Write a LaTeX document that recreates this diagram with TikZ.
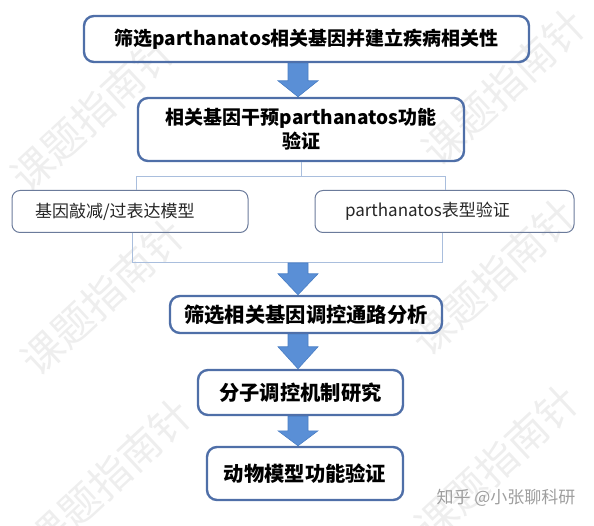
\documentclass[tikz,border=0pt]{standalone}
\usepackage{fontspec}
\setmainfont{Noto Sans CJK SC}
\usetikzlibrary{calc}
\definecolor{mainborder}{HTML}{4F6FA8}
\definecolor{subborder}{HTML}{6B7B9B}
\definecolor{connblue}{HTML}{A9BEDD}
\definecolor{arrowfill}{HTML}{5A8FD6}
\definecolor{arrowedge}{HTML}{4A7EC4}
\definecolor{wmgray}{HTML}{EEEEEE}
\tikzset{
  mainbox/.style={draw=mainborder, line width=2.4pt, rounded corners=10pt, inner sep=0pt,
    font=\fontsize{19}{24}\selectfont\bfseries, align=center},
  bigbox/.style={mainbox, font=\fontsize{20.3}{24}\selectfont\bfseries},
  subbox/.style={draw=subborder, line width=1pt, rounded corners=8pt, inner ysep=0pt,
    font=\fontsize{17}{20}\selectfont, text=black!85, align=left, minimum height=42pt},
  conn/.style={draw=connblue, line width=1pt},
  arrowsty/.style={fill=arrowfill, draw=arrowedge, line width=0.6pt},
  wm/.style={text=wmgray, font=\fontsize{41}{41}\selectfont, rotate=43, inner sep=0pt},
  zh/.style={text=black!38, font=\fontsize{17}{20}\selectfont, inner sep=0pt}
}
\newcommand\bigarrowpath[3]{%
  \filldraw[arrowsty] let \p1=(#1), \p2=(#2) in
    (\x1-10pt,\y1) -- (\x1+10pt,\y1) -- (\x1+10pt,\y2+#3) -- (\x1+20pt,\y2+#3)
    -- (\x1,\y2) -- (\x1-20pt,\y2+#3) -- (\x1-10pt,\y2+#3) -- cycle;}
\begin{document}
\begin{tikzpicture}[x=1pt,y=-1pt]
\useasboundingbox (0,0) rectangle (594,526);
% watermarks
\node[wm] (w1) at (93,113) {课题指南针};
\node[wm] (w2) at (504,87) {课题指南针};
\node[wm] (w3) at (103,297) {课题指南针};
\node[wm] (w4) at (110,477) {课题指南针};
\node[wm] (w5) at (494,277) {课题指南针};
\node[wm] (w6) at (497,463) {课题指南针};
% boxes
\node[mainbox, minimum width=445pt, minimum height=46pt] (b1) at (306.5,39) {筛选parthanatos相关基因并建立疾病相关性};
\node[mainbox, minimum width=326pt, minimum height=63pt] (b2) at (301,129.5) {相关基因干预parthanatos功能\\验证};
\node[subbox, text width=190pt, inner xsep=23pt] (b3) at (130,211.5) {基因敲减/过表达模型};
\node[subbox, text width=199pt, inner xsep=30pt] (b4) at (444.5,211.5) {parthanatos表型验证};
\node[bigbox, minimum width=272pt, minimum height=37pt] (b5) at (306,314.5) {筛选相关基因调控通路分析};
\node[bigbox, minimum width=205pt, minimum height=45pt] (b6) at (300.5,392.5) {分子调控机制研究};
\node[bigbox, minimum width=196pt, minimum height=53pt] (b7) at (305,473.5) {动物模型功能验证};
% connector tree
\coordinate (jl) at (136,177);
\coordinate (jr) at (445,177);
\coordinate (kl) at (132,263);
\coordinate (kr) at (442,263);
\coordinate (ax) at (298,0);
\draw[conn] (b2.south) -- (b2.south |- jl);
\draw[conn] (b3.north -| jl) -- (jl) -- (jr) -- (b4.north -| jr);
\draw[conn] (b3.south -| kl) -- (kl) -- (kr) -- (b4.south -| kr);
% block arrows
\bigarrowpath{b1.south -| ax}{b2.north -| ax}{16pt}
\bigarrowpath{kl -| ax}{b5.north -| ax}{21pt}
\bigarrowpath{b5.south -| ax}{b6.north -| ax}{22pt}
\bigarrowpath{b6.south -| ax}{b7.north -| ax}{15pt}
% zhihu mark
\node[zh] (zh) at (506,498) {知乎 @小张聊科研};
\end{tikzpicture}
\end{document}
